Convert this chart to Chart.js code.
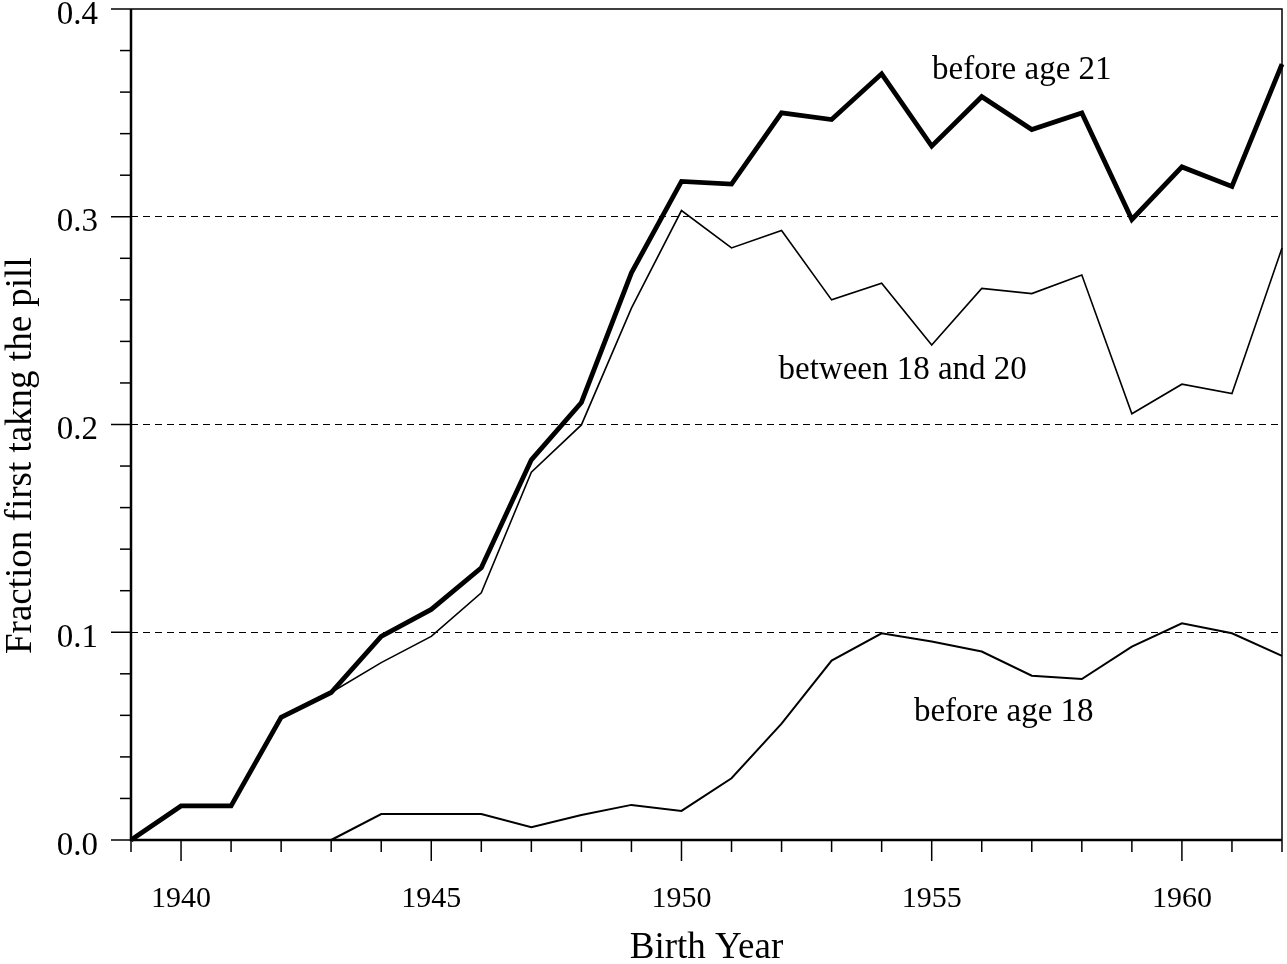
<!DOCTYPE html>
<html>
<head>
<meta charset="utf-8">
<script src="https://cdn.jsdelivr.net/npm/chart.js@4.4.1/dist/chart.umd.min.js"></script>
<style>
  html, body { margin: 0; padding: 0; background: #fff; }
  #wrap { width: 1287px; height: 964px; }
</style>
</head>
<body>
<div id="wrap"><canvas id="chart"></canvas></div>
<script>
// birth cohorts
const years = [1939, 1940, 1941, 1942, 1943, 1944, 1945, 1946, 1947, 1948, 1949, 1950,
               1951, 1952, 1953, 1954, 1955, 1956, 1957, 1958, 1959, 1960, 1961, 1962];

// fraction first taking the pill
const beforeAge21 = [0.000, 0.0164, 0.0164, 0.059, 0.071, 0.098, 0.111, 0.131, 0.183, 0.2106, 0.273, 0.317,
                     0.3157, 0.350, 0.3468, 0.3688, 0.334, 0.3578, 0.342, 0.350, 0.2987, 0.324, 0.3146, 0.3735];
const between18and20 = [0.000, 0.0164, 0.0164, 0.059, 0.071, 0.0854, 0.098, 0.119, 0.177, 0.1998, 0.256, 0.303,
                        0.285, 0.2934, 0.260, 0.268, 0.2383, 0.2655, 0.263, 0.272, 0.2052, 0.2194, 0.2149, 0.285];
const beforeAge18 = [null, null, null, null, 0.000, 0.0125, 0.0125, 0.0125, 0.0061, 0.012, 0.0169, 0.0140,
                     0.0297, 0.056, 0.0864, 0.0995, 0.0955, 0.0907, 0.0791, 0.0775, 0.0931, 0.1043, 0.0995, 0.0886];

// in-plot labels: [text, year, value]
const seriesLabels = [
    ['before age 21', 1956.8, 0.3706],
    ['between 18 and 20', 1954.42, 0.2262],
    ['before age 18', 1956.44, 0.0616]
];
const yTitle = 'Fraction first takng the pill';

const SERIF = '"Liberation Serif", "Times New Roman", serif';
const toPts = arr => years.map((y, i) => ({ x: y, y: arr[i] }));
const isTenth = v => Math.abs(v * 10 - Math.round(v * 10)) < 1e-6;

// frame, outward tick marks, y title and the curve labels
const decorations = {
    id: 'decorations',
    afterDraw(chart) {
        const { ctx, chartArea: a, scales: { x, y } } = chart;
        ctx.save();
        ctx.strokeStyle = '#000';
        ctx.lineCap = 'butt';

        // frame
        ctx.lineWidth = 1.5;
        ctx.beginPath();
        ctx.moveTo(a.left, a.top); ctx.lineTo(a.right, a.top); ctx.lineTo(a.right, a.bottom);
        ctx.stroke();
        ctx.lineWidth = 2.5;
        ctx.beginPath();
        ctx.moveTo(a.left, a.top); ctx.lineTo(a.left, a.bottom); ctx.lineTo(a.right, a.bottom);
        ctx.stroke();

        // x ticks, every year, longer every 5
        ctx.lineWidth = 1.5;
        for (let yr = years[0]; yr <= years[years.length - 1]; yr++) {
            const px = x.getPixelForValue(yr);
            const len = yr % 5 === 0 ? 21 : 12;
            ctx.beginPath(); ctx.moveTo(px, a.bottom); ctx.lineTo(px, a.bottom + len); ctx.stroke();
        }
        // y ticks, every 0.02, longer every 0.1
        for (let k = 0; k <= 20; k++) {
            const py = y.getPixelForValue(k * 0.02);
            const len = k % 5 === 0 ? 20 : 11;
            ctx.beginPath(); ctx.moveTo(a.left - len, py); ctx.lineTo(a.left, py); ctx.stroke();
        }

        ctx.fillStyle = '#000';
        ctx.textAlign = 'center';
        ctx.textBaseline = 'middle';

        // y title, sits a bit below the axis middle in the original
        ctx.save();
        ctx.translate(21, y.getPixelForValue(0.185));
        ctx.rotate(-Math.PI / 2);
        ctx.font = '37px ' + SERIF;
        ctx.fillText(yTitle, 0, 0);
        ctx.restore();

        // curve labels
        ctx.font = '33px ' + SERIF;
        seriesLabels.forEach(([t, xv, yv]) => {
            ctx.fillText(t, x.getPixelForValue(xv), y.getPixelForValue(yv));
        });
        ctx.restore();
    }
};

new Chart(document.getElementById('chart'), {
    type: 'line',
    data: {
        datasets: [
            { label: 'before age 21', data: toPts(beforeAge21), borderColor: '#000', borderWidth: 4.8, pointRadius: 0, tension: 0, clip: false },
            { label: 'between 18 and 20', data: toPts(between18and20), borderColor: '#000', borderWidth: 1.6, pointRadius: 0, tension: 0, clip: false },
            { label: 'before age 18', data: toPts(beforeAge18), borderColor: '#000', borderWidth: 2, pointRadius: 0, tension: 0, clip: false, spanGaps: false }
        ]
    },
    options: {
        responsive: true,
        maintainAspectRatio: false,
        animation: false,
        layout: { padding: { left: 0, top: 9, right: 5, bottom: 0 } },
        plugins: { legend: { display: false }, tooltip: { enabled: false } },
        scales: {
            x: {
                type: 'linear',
                min: 1939, max: 1962,
                afterFit(s) { s.height = 124; s.paddingLeft = 0; s.paddingRight = 0; },
                grid: { drawOnChartArea: false, drawTicks: false },
                border: { display: false },
                ticks: {
                    stepSize: 1, autoSkip: false, maxRotation: 0, padding: 41,
                    color: '#000', font: { family: SERIF, size: 30 },
                    callback: v => (v % 5 === 0 ? String(v) : '')
                },
                title: { display: true, text: 'Birth Year', color: '#000', font: { family: SERIF, size: 37 }, padding: { top: 0, bottom: -6 } }
            },
            y: {
                min: 0, max: 0.4,
                afterFit(s) { s.width = 131; s.paddingTop = 0; s.paddingBottom = 0; },
                grid: {
                    drawTicks: false,
                    lineWidth: 1,
                    color: c => (c.tick && isTenth(c.tick.value) && c.tick.value > 0.05 && c.tick.value < 0.35 ? '#000' : 'rgba(0,0,0,0)')
                },
                border: { display: false, dash: [7, 5] },
                ticks: {
                    stepSize: 0.02, autoSkip: false, padding: 33, labelOffset: 6,
                    color: '#000', font: { family: SERIF, size: 33 },
                    callback: v => (isTenth(v) ? v.toFixed(1) : '')
                },
                title: { display: false }
            }
        }
    },
    plugins: [decorations]
});
</script>
</body>
</html>
